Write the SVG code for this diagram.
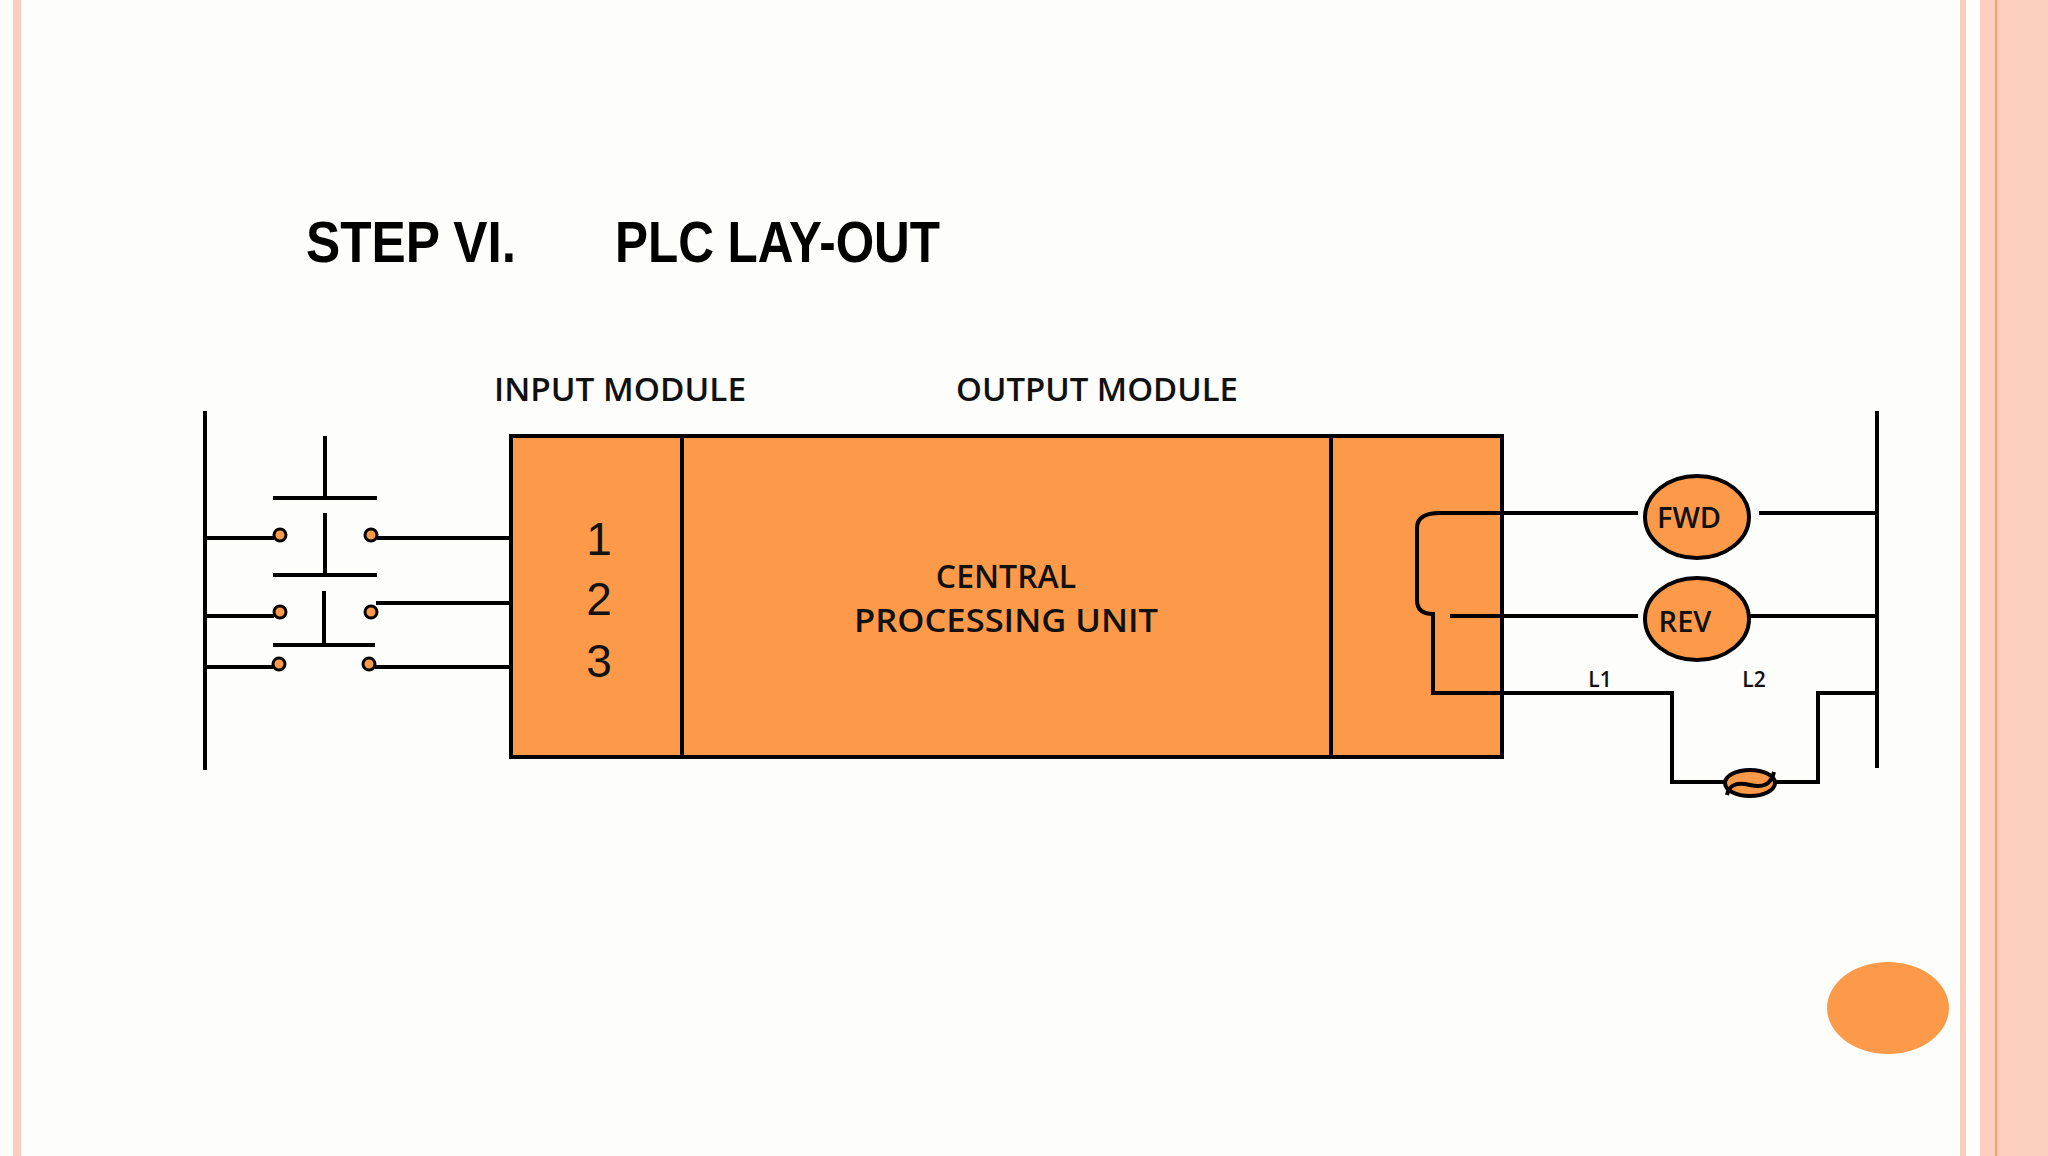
<svg xmlns="http://www.w3.org/2000/svg" width="2048" height="1156" viewBox="0 0 2048 1156">
<style>
.w{stroke:#000;stroke-width:4;fill:none}
.o{fill:#FD9A4A;stroke:#000;stroke-width:4}
.t{font-family:"Liberation Sans",Arial,sans-serif;fill:#111}
.m{font-family:"Open Sans","Liberation Sans",sans-serif;font-weight:600;fill:#111}
.tb{font-family:"Liberation Sans",Arial,sans-serif;font-weight:bold;fill:#000}
.c{fill:#FD9A4A;stroke:#000;stroke-width:3}
</style>
<rect width="2048" height="1156" fill="#FDFDFB"/>
<rect x="13" y="0" width="8" height="1156" fill="#FBCDBD"/>
<rect x="1960" y="0" width="6" height="1156" fill="#FBCDBD"/>
<rect x="1980" y="0" width="68" height="1156" fill="#FCCFBF"/>
<rect x="1995" y="0" width="2" height="1156" fill="#F5A070"/>
<ellipse cx="1888" cy="1008" rx="61" ry="46" fill="#FD9A4A"/>
<text class="tb" x="306" y="262" font-size="58" textLength="210" lengthAdjust="spacingAndGlyphs">STEP VI.</text>
<text class="tb" x="615" y="262" font-size="58" textLength="325" lengthAdjust="spacingAndGlyphs">PLC LAY-OUT</text>
<text class="m" x="494" y="401" font-size="32" textLength="252" lengthAdjust="spacingAndGlyphs">INPUT MODULE</text>
<text class="m" x="956" y="401" font-size="32" textLength="282" lengthAdjust="spacingAndGlyphs">OUTPUT MODULE</text>
<g id="plc">
<rect class="o" x="511" y="436" width="991" height="321"/>
<line class="w" x1="682" y1="436" x2="682" y2="757"/>
<line class="w" x1="1331" y1="436" x2="1331" y2="757"/>
<text class="t" x="599" y="555" font-size="46" text-anchor="middle">1</text>
<text class="t" x="599" y="615" font-size="46" text-anchor="middle">2</text>
<text class="t" x="599" y="677" font-size="46" text-anchor="middle">3</text>
<text class="m" x="1006" y="588" font-size="32" text-anchor="middle">CENTRAL</text>
<text class="m" x="1006" y="632" font-size="32" text-anchor="middle" textLength="304" lengthAdjust="spacingAndGlyphs">PROCESSING UNIT</text>
</g>
<g id="connectors">
<line class="w" x1="205" y1="411" x2="205" y2="770"/>
<line class="w" x1="1877" y1="411" x2="1877" y2="768"/>
<path class="w" d="M325 436V498M273 498H377M325 513V575M273 575H377M324 591V645M273 645H375"/>
<path class="w" d="M205 538H274M377 538H511M205 616H274M376 603H511M205 667H273M375 667H511"/>
<path class="w" d="M1638 513H1440Q1417 513 1417 528V600Q1417 614 1433 614V693H1672V782H1818V693H1877"/>
<path class="w" d="M1759 513H1877M1450 616H1638M1742 616H1877"/>
</g>
<g id="inputs">
<circle class="c" cx="280" cy="535" r="6"/><circle class="c" cx="371" cy="535" r="6"/>
<circle class="c" cx="280" cy="612" r="6"/><circle class="c" cx="371" cy="612" r="6"/>
<circle class="c" cx="279" cy="664" r="6"/><circle class="c" cx="369" cy="664" r="6"/>
</g>
<g id="fwd">
<ellipse class="o" cx="1697" cy="517" rx="52" ry="41"/>
<text class="m" x="1689" y="528" font-size="29" text-anchor="middle" fill="#000">FWD</text>
</g>
<g id="rev">
<ellipse class="o" cx="1697" cy="619" rx="52" ry="41"/>
<text class="m" x="1685" y="632" font-size="29" text-anchor="middle" fill="#000">REV</text>
</g>
<g id="lamp">
<ellipse class="o" cx="1750" cy="783" rx="25" ry="13"/>
<path class="w" d="M1727 795Q1730 780 1750 785Q1770 790 1774 772"/>
<text class="m" x="1600" y="687" font-size="21" text-anchor="middle">L1</text>
<text class="m" x="1754" y="687" font-size="21" text-anchor="middle">L2</text>
</g>
</svg>
